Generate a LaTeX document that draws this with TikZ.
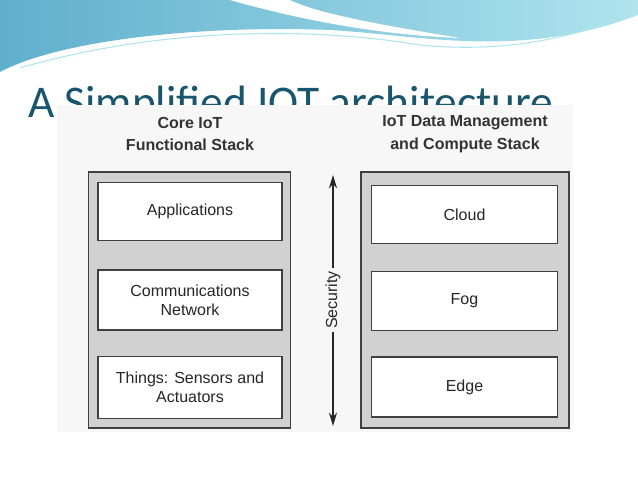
\documentclass[tikz,border=0pt]{standalone}
\usepackage{fontspec}
\usetikzlibrary{arrows.meta}
\setmainfont{Liberation Sans}
\newfontfamily\titlefont{Carlito}
\definecolor{waveA}{RGB}{95,175,205}
\definecolor{waveB}{RGB}{175,228,238}
\definecolor{titlec}{RGB}{25,85,110}
\begin{document}
\begin{tikzpicture}[x=0.75pt,y=-0.75pt,
  outer/.style={draw=black!75,line width=0.8pt,fill=black!18,inner sep=0},
  inner/.style={draw=black!75,line width=0.8pt,fill=white,align=center,font=\fontsize{12}{14}\selectfont,text=black!85},
  head/.style={align=center,font=\bfseries\fontsize{12}{17}\selectfont,text=black!80}]
\useasboundingbox (0,0) rectangle (638,478);
\fill[white] (0,0) rectangle (638,478);
% wave
\shade[left color=waveA, right color=waveB]
  (0,0) -- (638,0) -- (638,15) .. controls (520,60) and (420,35) .. (330,30)
  .. controls (200,25) and (60,40) .. (0,72) -- cycle;
\fill[white] (230,0) .. controls (300,20) and (380,35) .. (460,38) .. controls (400,28) and (320,15) .. (290,0) -- cycle;
\draw[waveB,line width=0.8pt] (20,68) .. controls (150,30) and (300,25) .. (420,45) .. controls (520,55) and (600,30) .. (638,8);
\node[anchor=base west,inner sep=0,text=titlec,font=\titlefont\fontsize{34}{36}\selectfont] (title) at (28,117) {A Simplified IOT architecture};
% image
\fill[black!3] (57,105) rectangle (573,432);
\node[head] (h1) at (190,134) {Core IoT\\Functional Stack};
\node[head] (h2) at (465,134) {IoT Data Management\\and Compute Stack};
\node[outer,minimum width=152pt,minimum height=192pt] (L) at (189.5,300) {};
\node[outer,minimum width=156pt,minimum height=192pt] (R) at (465,300) {};
\node[inner,minimum width=138pt,minimum height=43pt] (a) at (190,211.5) {Applications};
\node[inner,minimum width=138pt,minimum height=45pt] (b) at (190,300) {Communications\\Network};
\node[inner,minimum width=138pt,minimum height=46pt] (c) at (190,387.5) {Things: Sensors and\\Actuators};
\node[inner,minimum width=139pt,minimum height=43pt] (d) at (464.5,214.5) {Cloud};
\node[inner,minimum width=139pt,minimum height=44pt] (e) at (464.5,301) {Fog};
\node[inner,minimum width=139pt,minimum height=45pt] (f) at (464.5,387) {Edge};
\coordinate (t) at (333,175);
\coordinate (u) at (333,426);
\draw[<->,>={Stealth[length=10pt,width=6pt]},line width=1.5pt,black!85] (t) -- (u);
\node[fill=black!3,rotate=90,inner sep=2pt,font=\fontsize{12}{14}\selectfont,text=black!85] (s) at (333,300) {Security};
\end{tikzpicture}
\end{document}
